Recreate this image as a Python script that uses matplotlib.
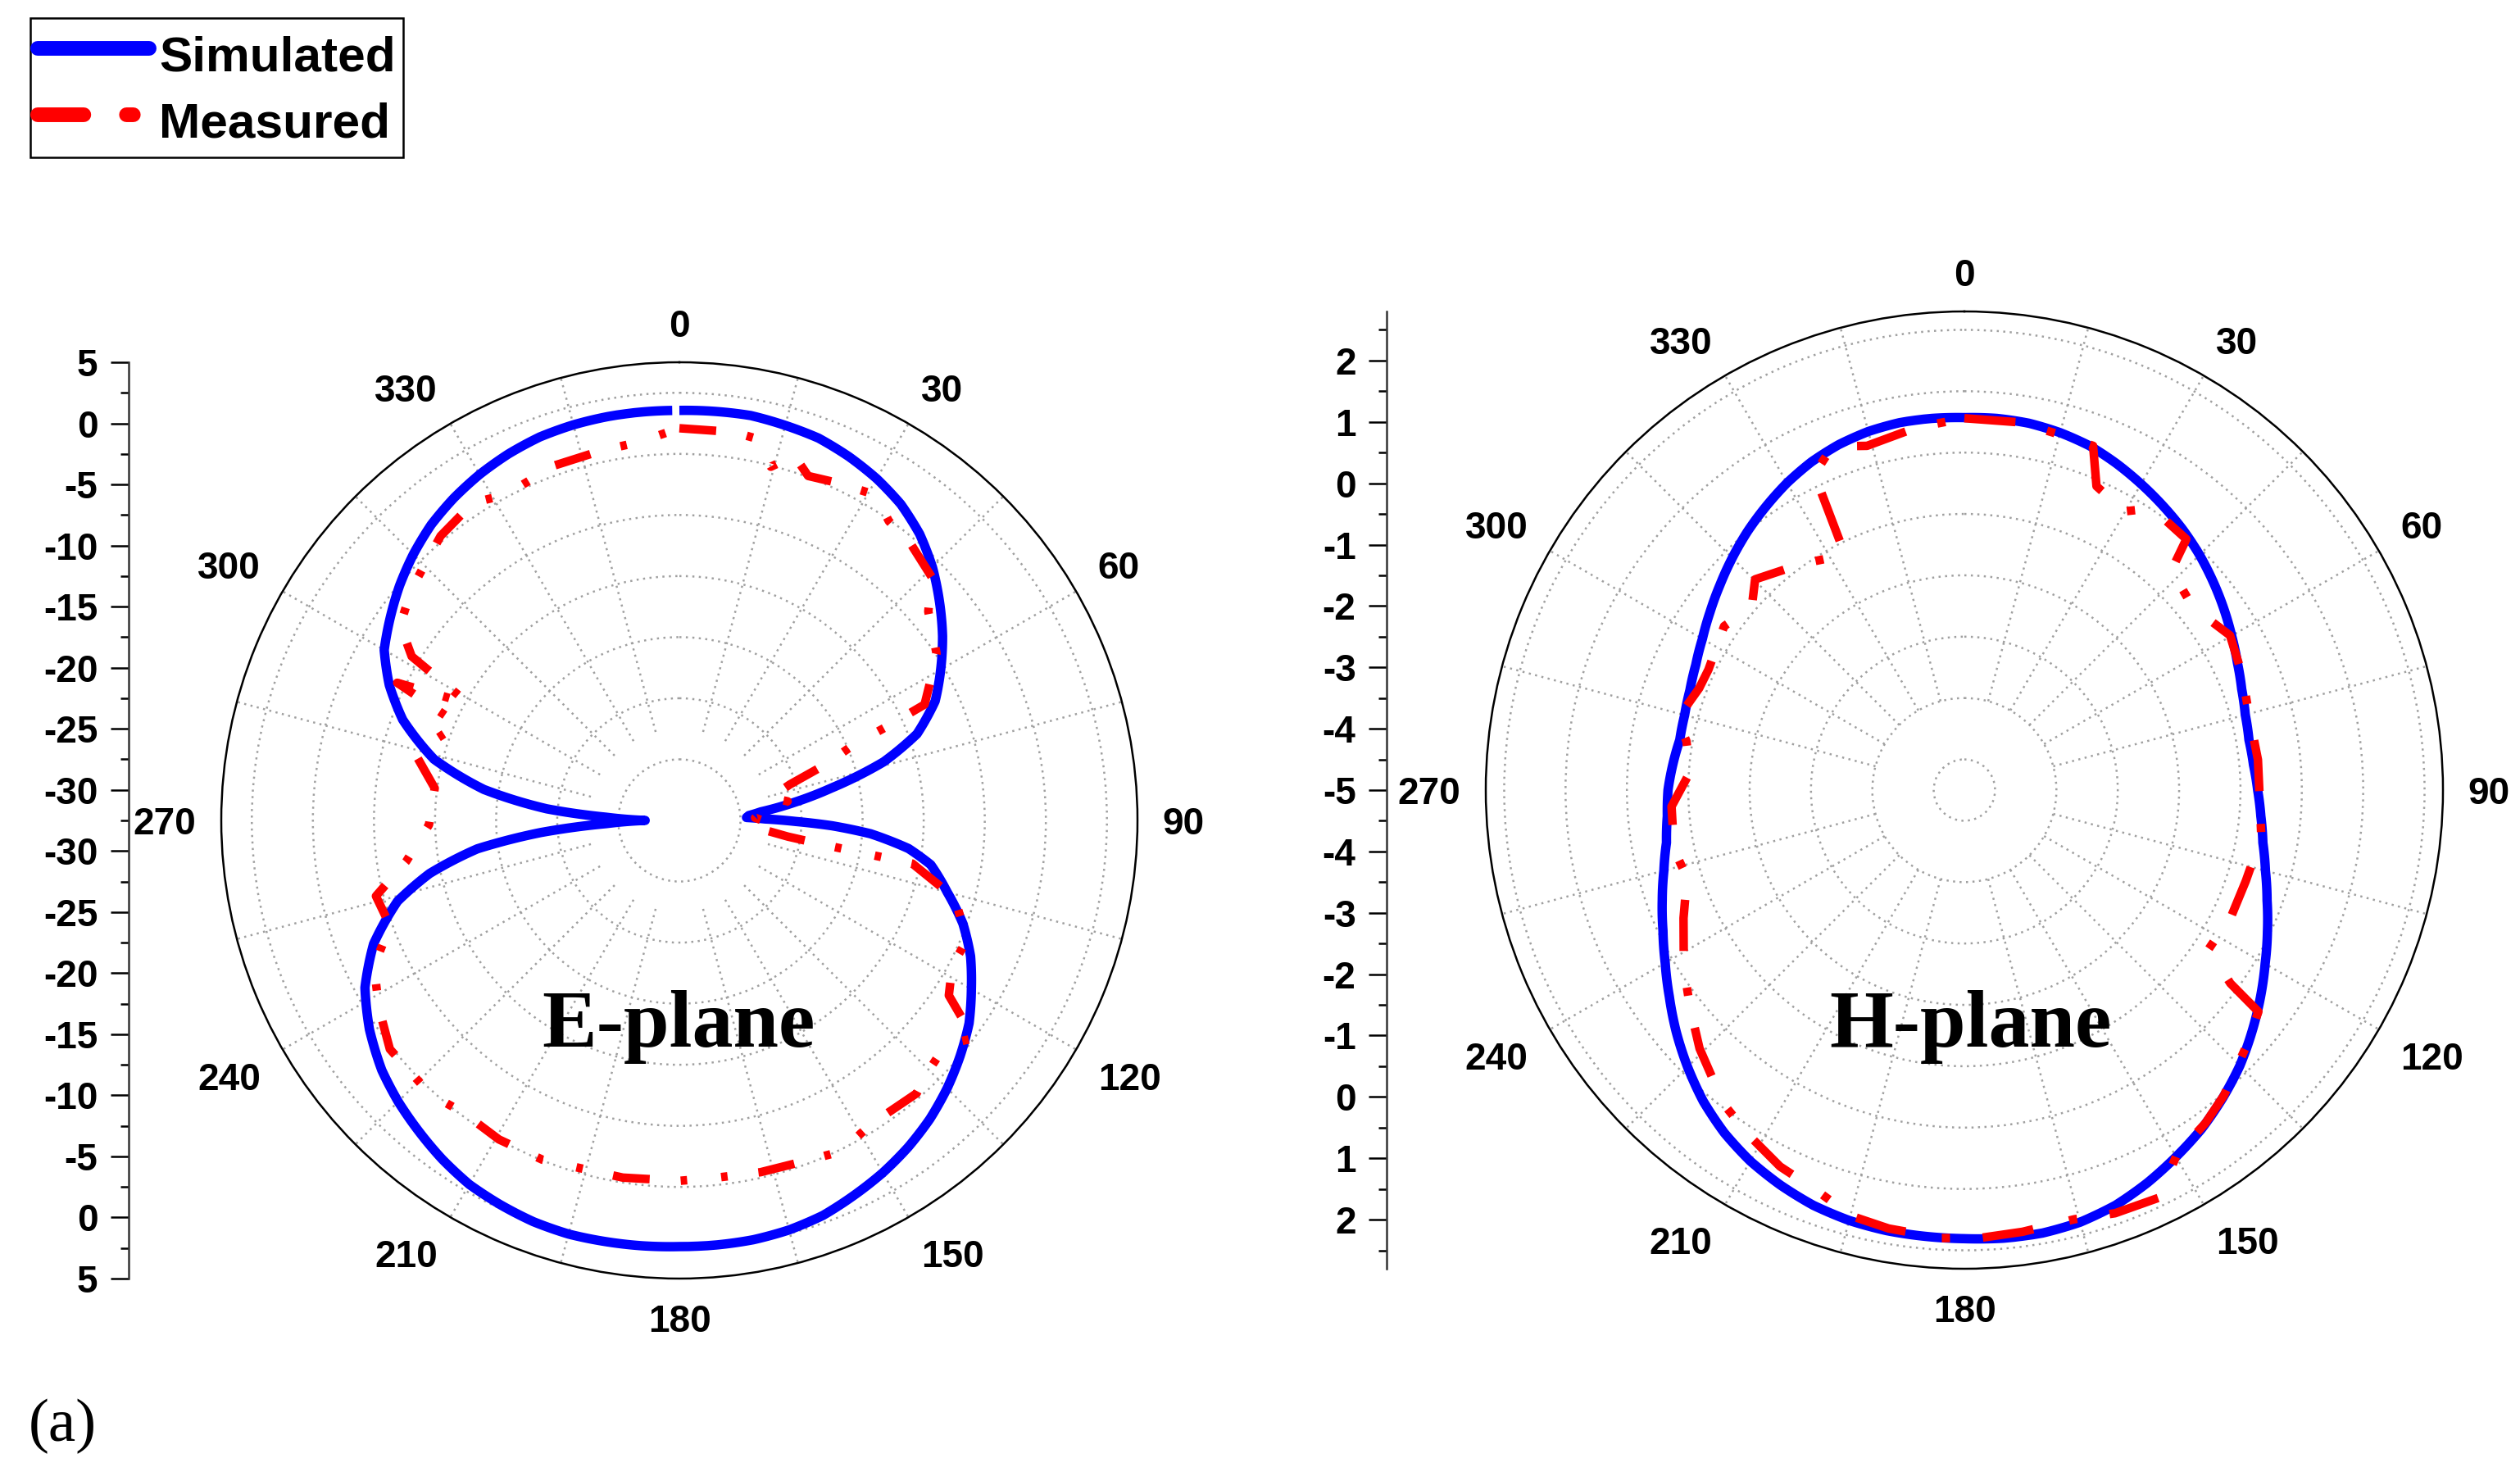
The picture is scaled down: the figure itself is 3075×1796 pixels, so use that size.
import numpy as np
import matplotlib
matplotlib.use('Agg')
import matplotlib.pyplot as plt
from matplotlib.lines import Line2D
from matplotlib.transforms import offset_copy

# ---------------- data ----------------
theta_labels = [0, 30, 60, 90, 120, 150, 180, 210, 240, 270, 300, 330]

# E-plane, simulated (deg, dB)
e_sim_ang = [0, 10, 20, 25, 30, 35, 40, 45, 50, 55, 60, 65, 70, 74, 78, 81, 84, 86,
             87.5, 89, 90.5, 92, 94, 97, 100, 105, 110, 115, 120, 125, 130, 135, 140,
             145, 150, 155, 160, 165, 170, 175, 180, 185, 190, 195, 200, 205, 210, 215,
             220, 225, 230, 236, 242, 248, 254, 258, 262, 265, 267.5, 270, 272.5, 275,
             279, 284, 290, 295, 300, 305, 310, 315, 320, 325, 330, 335, 340, 345, 350,
             355, 359]
e_sim_db = [1.06, 1.15, 0.8, 0.35, -0.2, -0.9, -1.9, -3.2, -4.7, -6.2, -7.8, -9.4, -11.8,
            -15.1, -19.8, -22.9, -25.8, -26.8, -27.0, -25.5, -23.0, -20.0, -16.8, -13.6,
            -11.6, -9.8, -7.8, -6.2, -4.9, -3.55, -2.5, -1.5, -0.6, 0.15, 0.8, 1.35, 1.9,
            2.2, 2.35, 2.38, 2.38, 2.45, 2.5, 2.55, 2.45, 2.2, 1.9, 1.35, 0.7, 0.05, -0.7,
            -1.9, -3.35, -5.5, -8.5, -11.6, -15.8, -21.1, -26.5, -29.7, -26.5, -21.6,
            -16.3, -11.8, -8.4, -6.3, -4.6, -3.6, -2.6, -1.7, -0.9, -0.3, 0.2, 0.6, 0.9,
            1.02, 1.07, 1.07, 1.06]

# E-plane, measured (deg, dB)
e_meas_ang = [0, 8, 11, 14.5, 17.5, 20.5, 25, 31, 35, 40, 46, 50, 57, 61.5, 64.7, 65.6,
              66.5, 69, 72, 76, 80, 84, 88, 92, 96, 98.5, 99.5, 100.5, 105.7, 112.5, 118,
              123, 126.5, 130, 135, 139, 147.7, 154, 159, 167, 174, 180, 189, 196, 202,
              209.5, 216.5, 222.3, 231.7, 238, 244.5, 250, 256, 261.5, 269, 277.5, 283.6,
              287.5, 293.5, 296, 299, 301.5, 305, 311, 320, 327, 332, 340.5, 348, 354, 360]
e_meas_db = [-0.4, -0.4, -0.6, -2.6, -1.2, -2.4, -2.0, -1.4, -2.6, -3.0, -3.8, -5.9, -7.4,
             -9.2, -10.3, -13.6, -16.9, -19.6, -23.0, -24.8, -23.5, -25.8, -26.3, -25.0,
             -25.8, -23.5, -20.8, -13.1, -9.1, -7.0, -7.2, -6.2, -2.5, -4.0, -3.6, -2.9,
             -3.1, -2.35, -2.74, -2.95, -3.1, -3.0, -2.9, -2.9, -2.55, -2.5, -2.75, -2.2,
             -2.3, -3.5, -4.8, -7.3, -6.9, -9.9, -12.0, -12.3, -10.4, -11.2, -12.8, -6.8,
             -12.8, -6.8, -4.6, -3.5, -2.1, -1.5, -2.3, -1.7, -1.57, -1.35, -0.4]

# H-plane, simulated (deg, dB)
h_sim_ang = list(range(0, 365, 5))
h_sim_db = [1.07, 1.08, 1.07, 1.03, 0.97, 0.87, 0.76, 0.65, 0.54, 0.42, 0.29, 0.16, 0.03,
            -0.09, -0.19, -0.26, -0.29, -0.27, -0.22, -0.15, -0.06, 0.08, 0.25, 0.45, 0.66,
            0.89, 1.12, 1.35, 1.55, 1.74, 1.9, 2.06, 2.2, 2.29, 2.33, 2.33, 2.31, 2.3, 2.29,
            2.26, 2.2, 2.1, 1.98, 1.82, 1.62, 1.38, 1.13, 0.87, 0.63, 0.42, 0.24, 0.07, -0.07,
            -0.14, -0.17, -0.23, -0.29, -0.28, -0.24, -0.17, -0.07, 0.06, 0.2, 0.35, 0.5,
            0.64, 0.78, 0.9, 0.99, 1.05, 1.08, 1.08, 1.07]

# H-plane, measured (deg, dB)
h_meas_ang = [0, 8.5, 14.5, 20.5, 23.5, 29.9, 33.7, 41.5, 43.3, 51.4, 59.8, 67.7, 74.9, 84.1,
              90.7, 99, 107.9, 115, 123.1, 126, 127, 132.6, 139.6, 144.1, 149.7, 154.5,
              160.4, 165.6, 172.5, 177.8, 182.9, 189.8, 194.9, 200.1, 206.1, 212, 217.4,
              225.7, 231.5, 237.7, 245.5, 252.5, 258.4, 266.8, 273.8, 280, 283.9, 291,
              295.2, 304.3, 310.7, 315.2, 324.3, 333.1, 334.6, 339, 344.2, 352.5, 360]
h_meas_db = [1.06, 1.06, 1.0, 0.99, 0.4, 0.24, 0.52, 0.46, -0.08, -0.23, 0.01, -0.1, -0.2,
             -0.19, -0.19, -0.1, -0.18, -0.19, -0.25, 0.36, 1.0, 1.22, 1.53, 1.7, 1.87, 2.36,
             2.32, 2.22, 2.26, 2.3, 2.31, 2.25, 2.18, 1.96, 1.83, 1.63, 1.45, 1.03, 0.71,
             0.41, 0.03, -0.26, -0.17, -0.22, -0.52, -0.4, -0.18, -0.37, -0.39, -0.26,
             -0.43, -0.16, -0.46, -0.7, 0.7, 1.0, 0.83, 0.96, 1.06]

# radial scales
e_rmin, e_rmax = -32.5, 5.0
e_major = [5, 0, -5, -10, -15, -20, -25, -30]
e_grid = [-27.5, -22.5, -17.5, -12.5, -7.5, -2.5, 2.5]
h_rmin, h_rmax = -5.0, 2.8
h_major = [2, 1, 0, -1, -2, -3, -4, -5]
h_grid = [-4.5, -3.5, -2.5, -1.5, -0.5, 0.5, 1.5, 2.5]

legend_labels = ['Simulated', 'Measured']

# ---------------- style ----------------
plt.rcParams['font.family'] = ['Liberation Sans', 'DejaVu Sans']
plt.rcParams['lines.scale_dashes'] = False

W, H = 3075, 1796
DPI = 300
fig = plt.figure(figsize=(W / DPI, H / DPI), dpi=DPI)

BLUE = '#0000ff'
RED = '#ff0000'
GRID = '#a0a0a0'
LBL = dict(fontsize=11, fontweight='bold')
E_DASH = (10.8, 9.1, 1.9, 10.0, 1.9, 9.1)
H_DASH = (15.0, 9.6, 2.4, 10.8)
THETA_GAP = 7.4  # points between circle and nearest label edge


def rect(cx, cy, r):
    return [(cx - r) / W, (H - cy - r) / H, 2 * r / W, 2 * r / H]


def polar_panel(cx, cy, r, rmin, rmax, grid, spoke_start, sim, meas, dash):
    ax = fig.add_axes(rect(cx, cy, r), projection='polar')
    ax.set_theta_zero_location('N')
    ax.set_theta_direction(-1)
    spokes = [a for a in range(15, 360, 15) if a % 90]
    ax.vlines(np.deg2rad(spokes), spoke_start, rmax, colors=GRID,
              linestyles=[(0, (0.6, 1.3))], linewidth=0.6, zorder=1)
    ln, = ax.plot(np.deg2rad(sim[0]), sim[1], color=BLUE, lw=2.75,
                  solid_capstyle='butt', solid_joinstyle='round', zorder=3)
    ln.get_path()._interpolation_steps = 12
    ax.plot(np.deg2rad(meas[0]), meas[1], color=RED, lw=2.5,
            dashes=dash, dash_capstyle='butt', zorder=4)
    ax.set_ylim(rmin, rmax)
    ax.set_yticks(grid)
    ax.set_yticklabels([])
    ax.yaxis.grid(True, linestyle=(0, (0.6, 1.3)), color=GRID, linewidth=0.6)
    ax.set_xticks(np.deg2rad(theta_labels))
    ax.set_xticklabels([])
    ax.set_xticks(np.deg2rad(np.arange(15, 360, 30)), minor=True)
    ax.xaxis.grid(False)
    ax.tick_params(axis='x', which='major', direction='in', length=5, width=0.6,
                   color='black')
    ax.tick_params(axis='x', which='minor', direction='in', length=2.4, width=0.6,
                   color='black')
    ax.spines['polar'].set_linewidth(0.6)
    # angle labels: nearest edge at a fixed gap outside the circle
    for t in theta_labels:
        a = np.deg2rad(t)
        s, c = np.sin(a), np.cos(a)
        ha = 'center' if abs(s) < 0.01 else ('left' if s > 0 else 'right')
        va = 'center_baseline' if abs(c) < 0.01 else ('baseline' if c > 0 else 'top')
        tr = offset_copy(ax.transData, fig=fig, x=THETA_GAP * s, y=THETA_GAP * c,
                         units='points')
        ax.text(a, rmax, str(t), transform=tr, ha=ha, va=va, clip_on=False, **LBL)
    return ax


def side_axis(x, cy, r, rmin, rmax, major, minor):
    ax = fig.add_axes([x / W, (H - cy - r) / H, 0.0002, 2 * r / H])
    span = rmax - rmin
    ax.set_ylim(-span, span)
    ax.set_xlim(0, 1)
    pos, labs = [], []
    for v in major:
        p = v - rmin
        pos.append(p)
        labs.append(str(v))
        if p > 0:
            pos.append(-p)
            labs.append(str(v))
    mpos = []
    for g in minor + [rmin]:
        p = g - rmin
        if any(abs(p - q) < 1e-9 for q in pos):
            continue
        mpos.append(p)
        if p > 0:
            mpos.append(-p)
    ax.set_yticks(pos)
    ax.set_yticklabels(labs, **LBL)
    ax.set_yticks(mpos, minor=True)
    ax.tick_params(axis='y', which='major', direction='out', length=5.2, width=0.6, pad=3.8)
    ax.tick_params(axis='y', which='minor', direction='out', length=2.5, width=0.6)
    ax.set_xticks([])
    for s in ['top', 'right', 'bottom']:
        ax.spines[s].set_visible(False)
    ax.spines['left'].set_linewidth(0.6)
    ax.spines['left'].set_color('#333333')
    ax.patch.set_visible(False)
    return ax


# E-plane
polar_panel(829, 1001, 559, e_rmin, e_rmax, e_grid, e_rmin + 7.5,
            (e_sim_ang, e_sim_db), (e_meas_ang, e_meas_db), E_DASH)
side_axis(157, 1001, 559, e_rmin, e_rmax, e_major, e_grid)

# H-plane
polar_panel(2397, 964, 584, h_rmin, h_rmax, h_grid, h_rmin + 1.5,
            (h_sim_ang, h_sim_db), (h_meas_ang, h_meas_db), H_DASH)
side_axis(1692, 964, 584, h_rmin, h_rmax, h_major, h_grid)

# plane labels
fig.text(828 / W, 1 - 1277 / H, 'E-plane', ha='center', va='baseline',
         fontsize=24, fontweight='bold', family=['Liberation Serif', 'DejaVu Serif'])
fig.text(2404 / W, 1 - 1277 / H, 'H-plane', ha='center', va='baseline',
         fontsize=24, fontweight='bold', family=['Liberation Serif', 'DejaVu Serif'])
fig.text(35 / W, 1 - 1740 / H, '(a)', ha='left', va='center', fontsize=18,
         family=['Liberation Serif', 'DejaVu Serif'])

# legend
hs = Line2D([], [], color=BLUE, lw=4.3, solid_capstyle='round')
hm = Line2D([], [], color=RED, lw=4.3, dashes=(13.5, 12.5, 2.0, 12.5),
            dash_capstyle='round')
leg = fig.legend([hs, hm], legend_labels, loc='upper left',
                 bbox_to_anchor=(37 / W, 1 - 22 / H), borderaxespad=0,
                 prop={'family': 'Liberation Sans', 'weight': 'bold', 'size': 14.5},
                 frameon=True, fancybox=False, edgecolor='black', framealpha=1,
                 handlelength=2.25, handletextpad=0.2, borderpad=0.15,
                 handleheight=1.42, labelspacing=0.17)
leg.get_frame().set_linewidth(0.6)

fig.savefig('out.png', dpi=DPI, facecolor='white')
